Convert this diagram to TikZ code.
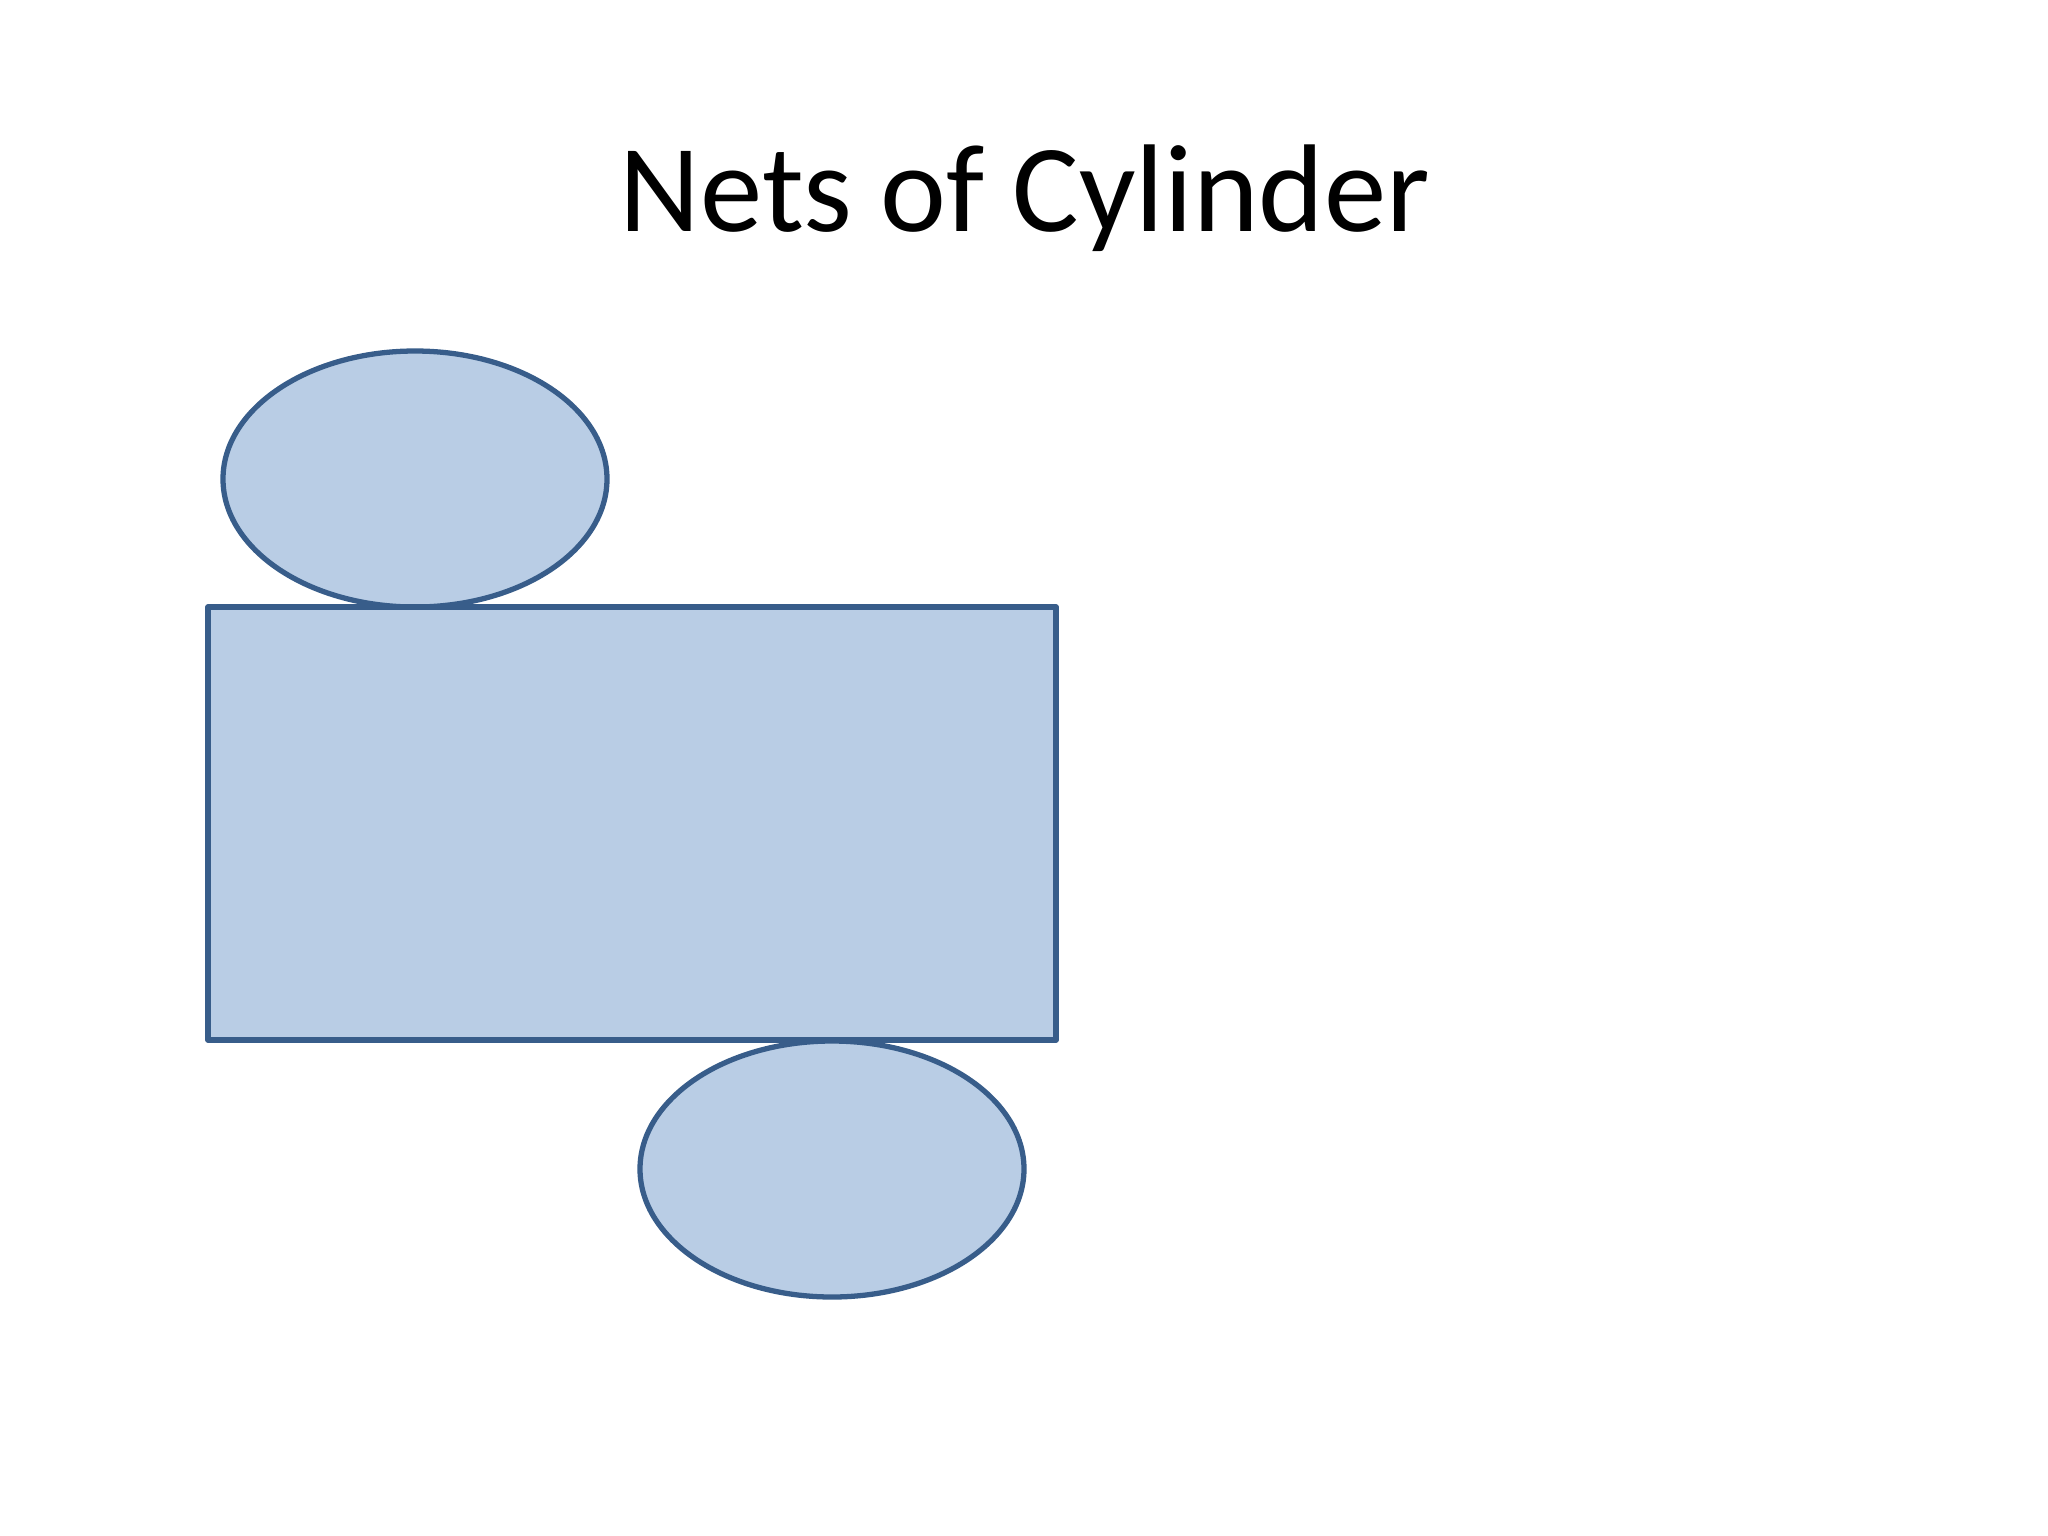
\documentclass[tikz,border=0pt]{standalone}
\usepackage{fontspec}
\setmainfont{Carlito}
\usetikzlibrary{shapes.geometric}
\definecolor{shapefill}{HTML}{B9CDE5}
\definecolor{shapeline}{HTML}{385D8A}
\begin{document}
\begin{tikzpicture}[x=0.01cm,y=-0.01cm,
  netpart/.style={fill=shapefill,draw=shapeline,line width=1.5pt}]
\useasboundingbox (0,0) rectangle (2048,1536);
\node[anchor=base,font=\fontsize{35.5}{42}\selectfont] (title) at (1025,231) {Nets of Cylinder};
\draw[netpart] (415,479) ellipse [x radius=192, y radius=128];
\draw[netpart] (832,1169) ellipse [x radius=192, y radius=128];
\draw[netpart,line join=round] (208,607) rectangle (1056,1040);
\end{tikzpicture}
\end{document}
